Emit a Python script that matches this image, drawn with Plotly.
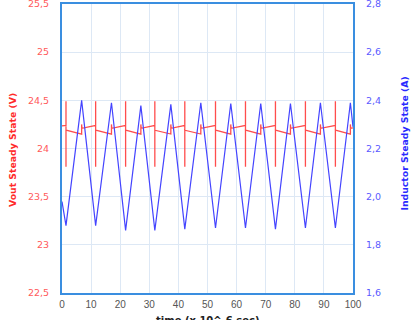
import plotly.graph_objects as go

# ---- data ----
# Inductor current (A): vertex times (us) and values
il_t = [0, 1.37, 6.75, 11.56, 17.0, 21.86, 27.1, 31.9, 37.4, 42.2, 47.7,
        52.75, 58.0, 63.05, 68.3, 73.35, 78.5, 83.65, 88.8, 93.95, 99.1, 100]
il_v = [1.98, 1.88, 2.40, 1.88, 2.39, 1.86, 2.378, 1.86, 2.383, 1.865, 2.39,
        1.87, 2.387, 1.87, 2.387, 1.865, 2.387, 1.87, 2.39, 1.87, 2.39, 2.29]

# Vout (V): switching events
spike_t = [1.37, 11.56, 21.86, 31.9, 42.2, 52.75, 63.05, 73.35, 83.65, 93.95]
peak_t = [6.75, 17.0, 27.1, 37.4, 47.7, 58.0, 68.3, 78.5, 88.8, 99.1]
v_start = 24.235
v_spike_hi = 24.49
v_spike_lo = 23.81
v_after_spike = 24.19
v_before_step = 24.15
v_step_hi = 24.25
v_after_step = 24.21
v_before_spike = 24.24
v_end = 24.215

left_ticks = [22.5, 23, 23.5, 24, 24.5, 25, 25.5]
right_ticks = [1.6, 1.8, 2.0, 2.2, 2.4, 2.6, 2.8]

x_title = "time (x 10^-6 sec)"
y_title = "Vout Steady State (V)"
y2_title = "Inductor Steady State (A)"

# build Vout polyline from the read events
vt = [0.0]
vv = [v_start]
for i, ts in enumerate(spike_t):
    vt += [ts, ts, ts, ts]
    vv += [v_before_spike, v_spike_hi, v_spike_lo, v_after_spike]
    tp = peak_t[i]
    vt += [tp, tp, tp + 0.1]
    vv += [v_before_step, v_step_hi, v_after_step]
vt.append(100)
vv.append(v_end)

RED = "#ff4d4d"
BLUE = "#4444ff"
FRAME = "#3a8ee0"
GRID = "#dde8f5"

fig = go.Figure()
fig.add_trace(go.Scatter(x=vt, y=vv, mode="lines", line=dict(color=RED, width=1.3),
                         yaxis="y", showlegend=False, hoverinfo="skip"))
fig.add_trace(go.Scatter(x=il_t, y=il_v, mode="lines", line=dict(color=BLUE, width=1.2),
                         yaxis="y2", showlegend=False, hoverinfo="skip"))

fig.update_layout(
    width=420, height=320,
    margin=dict(l=62, r=67, t=4, b=27),
    paper_bgcolor="white", plot_bgcolor="white",
    separators=",.",
    showlegend=False,
    xaxis=dict(
        range=[0, 100], tickmode="array", tickvals=list(range(0, 101, 10)),
        showline=True, linecolor=FRAME, linewidth=2, mirror=True,
        showgrid=True, gridcolor=GRID, gridwidth=1, zeroline=False,
        ticks="", ticklabelstandoff=1, automargin=False, ticklabeloverflow="allow",
        tickfont=dict(family="Liberation Sans, Arial", size=10, color="#555555"),
    ),
    yaxis=dict(
        range=[22.5, 25.5], tickmode="array", tickvals=left_ticks,
        showline=True, linecolor=FRAME, linewidth=2,
        showgrid=True, gridcolor=GRID, zeroline=False,
        ticks="", ticklabelstandoff=9, automargin=False, ticklabeloverflow="allow",
        tickfont=dict(family="DejaVu Sans", size=9.5, color="#ff5a5a"),
    ),
    yaxis2=dict(
        range=[1.6, 2.8], tickmode="array", tickvals=right_ticks, tickformat=".1f",
        overlaying="y", side="right",
        showline=True, linecolor=FRAME, linewidth=2,
        showgrid=False, zeroline=False,
        ticks="", ticklabelstandoff=9, automargin=False, ticklabeloverflow="allow",
        tickfont=dict(family="DejaVu Sans", size=9.5, color="#5a5aff"),
    ),
    annotations=[
        dict(text="<b>" + x_title + "</b>", xref="paper", yref="paper", x=0.5, y=0,
             xanchor="center", yanchor="top", yshift=-20, showarrow=False,
             font=dict(family="DejaVu Sans", size=10, color="#222222")),
        dict(text="<b>" + y_title + "</b>", xref="paper", yref="paper", x=0, y=0.5,
             xanchor="center", yanchor="middle", xshift=-49.5, yshift=-2,
             textangle=-90, showarrow=False,
             font=dict(family="DejaVu Sans", size=9.3, color="#ff2a2a")),
        dict(text="<b>" + y2_title + "</b>", xref="paper", yref="paper", x=1, y=0.5,
             xanchor="center", yanchor="middle", xshift=51, yshift=5,
             textangle=-90, showarrow=False,
             font=dict(family="DejaVu Sans", size=9.3, color="#2a2aff")),
    ],
)

fig.write_html("out.html")
